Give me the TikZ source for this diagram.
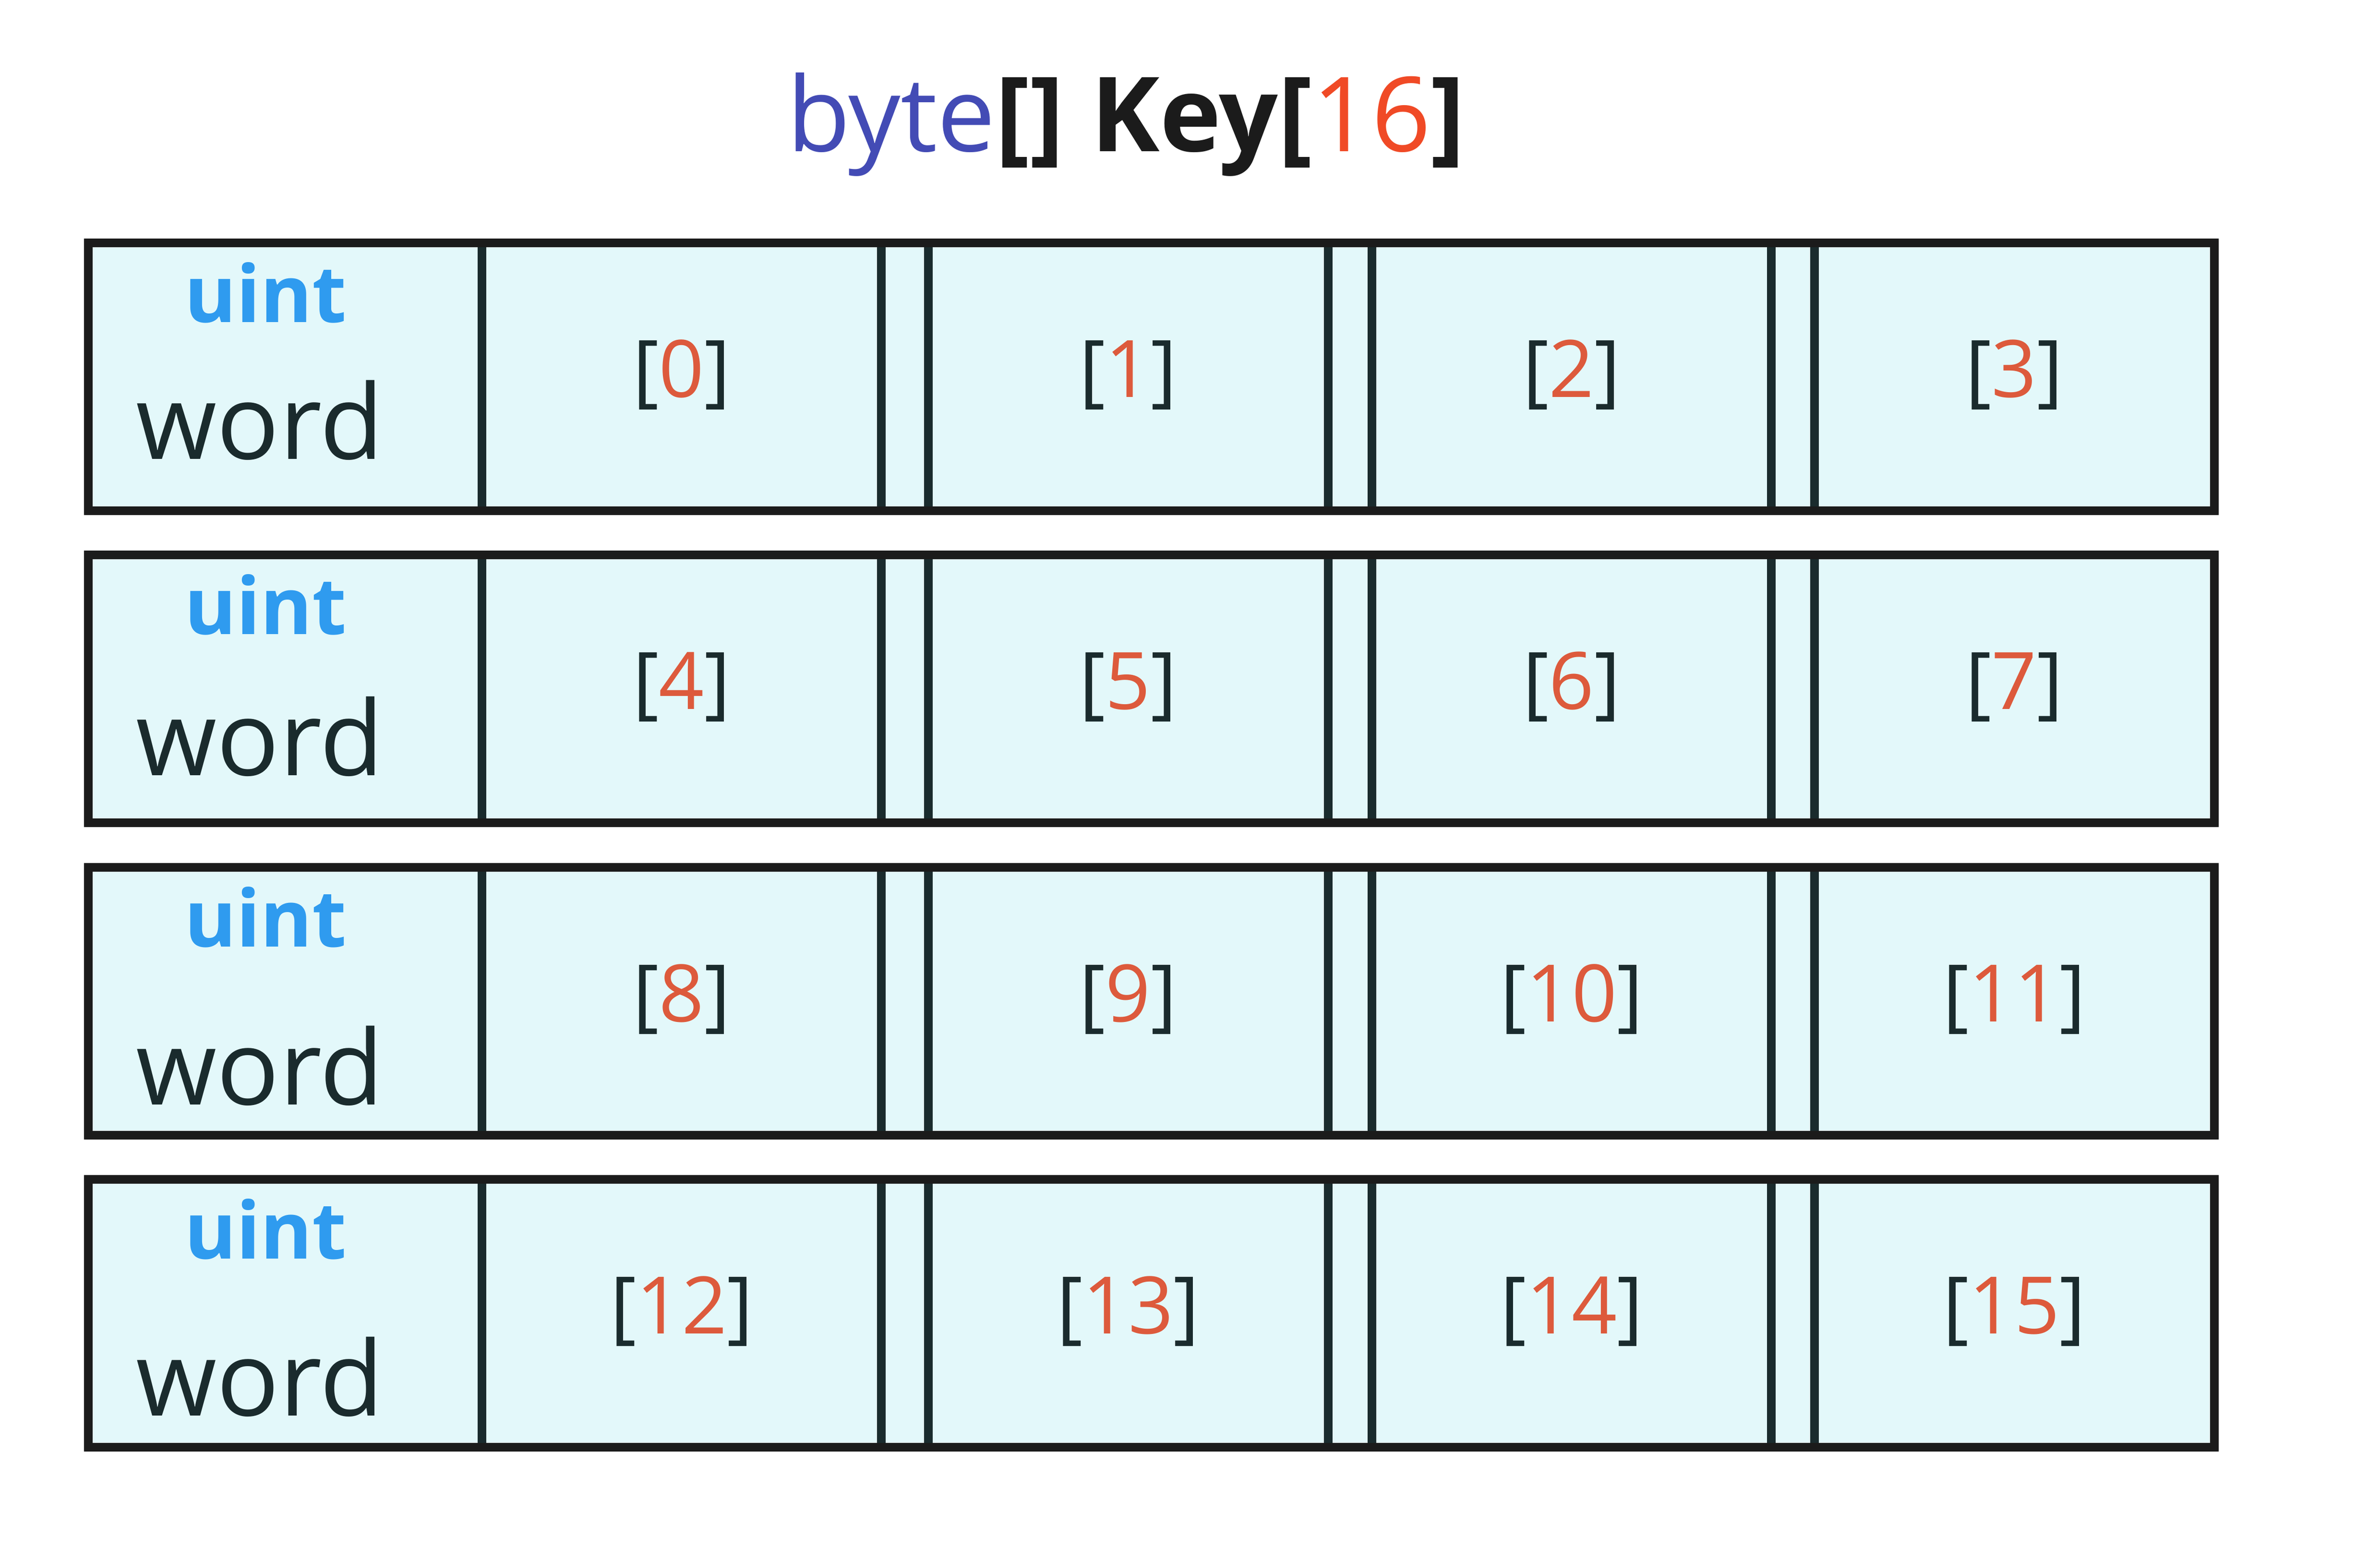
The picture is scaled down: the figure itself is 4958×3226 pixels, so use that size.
\documentclass[tikz,border=0pt]{standalone}
\usepackage{fontspec}
\setmainfont{Open Sans}
\definecolor{framecol}{HTML}{1B1B1B}
\definecolor{divcol}{HTML}{1A2B2D}
\definecolor{cellfill}{HTML}{E3F8FA}
\definecolor{uintcol}{HTML}{2F9BEF}
\definecolor{bytecol}{HTML}{434BB5}
\definecolor{titlenum}{HTML}{F04A26}
\definecolor{idxcol}{HTML}{DD5A3C}
\tikzset{
  rowbox/.style={rectangle, draw=framecol, line width=0.18cm,
    minimum width=44.27cm, minimum height=5.58cm, inner sep=0pt},
  divline/.style={draw=divcol, line width=0.18cm},
  uintlbl/.style={anchor=base, inner sep=0pt, text=uintcol, font=\fontsize{46.8}{50}\selectfont\bfseries},
  wordlbl/.style={anchor=base, inner sep=0pt, text=divcol, font=\fontsize{61.5}{64}\selectfont},
  idxlbl/.style={anchor=base, inner sep=0pt, text=divcol, font=\fontsize{47}{50}\selectfont},
  titlelbl/.style={anchor=base, inner sep=0pt, text=framecol, font=\fontsize{61.4}{64}\selectfont}
}
\newcommand{\idx}[1]{[{\color{idxcol}#1}]}
\begin{document}
\begin{tikzpicture}[x=0.01cm,y=-0.01cm]
\useasboundingbox[fill=white] (0,0) rectangle (4958,3226);
\node[titlelbl] (title) at (2346,315) {{\color{bytecol}byte}\textbf{[] Key[}{\color{titlenum}16}\textbf{]}};
\foreach \r/\yc/\wb [count=\n from 0] in {1/785/450, 2/1435/459, 3/2086/494, 4/2736/492} {
  \path[fill=cellfill] (185,\yc-279) rectangle (4612,\yc+279);
  \foreach \dx in {1004,1836,1934,2767,2858,3690,3780} {
    \draw[divline] (\dx,\yc-279) -- (\dx,\yc+279);
  }
  \node[rowbox] (row\r) at (2398.5,\yc) {};
  \node[uintlbl] (uint\r) at (553,\yc-279+165) {uint};
  \node[wordlbl] (word\r) at (541,\yc-279+\wb) {word};
  \pgfmathtruncatemacro{\ia}{4*\n}
  \pgfmathtruncatemacro{\ib}{4*\n+1}
  \pgfmathtruncatemacro{\ic}{4*\n+2}
  \pgfmathtruncatemacro{\id}{4*\n+3}
  \node[idxlbl] (c\ia) at (1420,\yc-279+321) {\idx{\ia}};
  \node[idxlbl] (c\ib) at (2350,\yc-279+321) {\idx{\ib}};
  \node[idxlbl] (c\ic) at (3274,\yc-279+321) {\idx{\ic}};
  \node[idxlbl] (c\id) at (4196,\yc-279+321) {\idx{\id}};
}
\end{tikzpicture}
\end{document}
